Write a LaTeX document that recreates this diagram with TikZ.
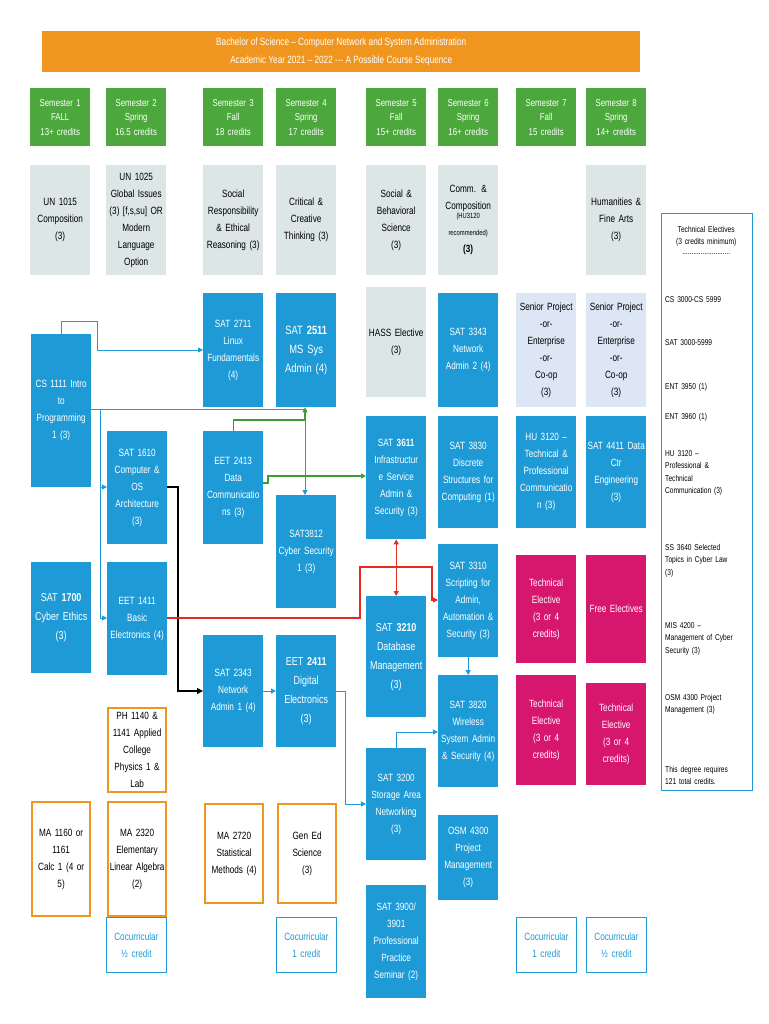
\documentclass[tikz,border=0pt]{standalone}
\usepackage{fontspec}
\setmainfont[FakeStretch=0.78]{Liberation Sans}
\usetikzlibrary{arrows.meta}
\definecolor{cblue}{HTML}{1E9BD7}
\definecolor{cgreen}{HTML}{4CA83C}
\definecolor{cgray}{HTML}{DCE6E6}
\definecolor{cmag}{HTML}{D7166E}
\definecolor{corange}{HTML}{F0961E}
\definecolor{clight}{HTML}{DCE6F4}
\definecolor{cred}{HTML}{E32B24}
\definecolor{cgline}{HTML}{3C9C35}
\tikzset{
 base/.style={anchor=north west,minimum width=60pt,inner sep=1pt,align=center,text width=58pt,font=\fontsize{10.5}{17}\selectfont},
 blu/.style={base,fill=cblue,text=white},
 gry/.style={base,fill=cgray,text=black},
 hdr/.style={base,fill=cgreen,text=white,font=\fontsize{10}{14.5}\selectfont},
 mag/.style={base,fill=cmag,text=white},
 lbl/.style={base,fill=clight,text=black},
 org/.style={base,draw=corange,line width=2.2pt,fill=white,text=black},
 cocu/.style={base,draw=cblue,line width=0.8pt,fill=white,text=cblue},
 bl/.style={draw=cblue,line width=1pt,-{Triangle[length=5pt,width=5pt]}},
 gl/.style={draw=cgline,line width=1.2pt,-{Triangle[length=5pt,width=5pt]}},
 rl/.style={draw=cred,line width=1.2pt,-{Triangle[length=5pt,width=5pt]}},
 kl/.style={draw=black,line width=1.2pt,-{Triangle[length=6pt,width=6pt]}},
 te/.style={anchor=north west,inner sep=0pt,align=left,text width=84pt,font=\fontsize{8.5}{12.5}\selectfont}
}
\begin{document}
\begin{tikzpicture}[x=1pt,y=-1pt]
\useasboundingbox[fill=white] (0,0) rectangle (768,1024);
\node[anchor=north west,fill=corange,text=white,minimum width=598pt,minimum height=41pt,inner sep=0pt,align=center,font=\fontsize{10.5}{18}\selectfont] (title) at (42,31) {Bachelor of Science – Computer Network and System Administration\\Academic Year 2021 – 2022 -{}-{}- A Possible Course Sequence};
% headers
\node[hdr,minimum height=58pt] (h1) at (30,88) {Semester 1\\FALL\\13+ credits};
\node[hdr,minimum height=58pt] (h2) at (106,88) {Semester 2\\Spring\\16.5 credits};
\node[hdr,minimum height=58pt] (h3) at (203,88) {Semester 3\\Fall\\18 credits};
\node[hdr,minimum height=58pt] (h4) at (276,88) {Semester 4\\Spring\\17 credits};
\node[hdr,minimum height=58pt] (h5) at (366,88) {Semester 5\\Fall\\15+ credits};
\node[hdr,minimum height=58pt] (h6) at (438,88) {Semester 6\\Spring\\16+ credits};
\node[hdr,minimum height=58pt] (h7) at (516,88) {Semester 7\\Fall\\15 credits};
\node[hdr,minimum height=58pt] (h8) at (586,88) {Semester 8\\Spring\\14+ credits};
% gen ed
\node[gry,minimum height=110pt] (un1015) at (30,165) {UN 1015\\Composition\\(3)};
\node[gry,minimum height=110pt] (un1025) at (106,165) {UN 1025\\Global Issues\\(3) [f,s,su] OR\\Modern\\Language\\Option};
\node[gry,minimum height=110pt] (soc) at (203,165) {Social\\Responsibility\\\& Ethical\\Reasoning (3)};
\node[gry,minimum height=110pt] (crit) at (276,165) {Critical \&\\Creative\\Thinking (3)};
\node[gry,minimum height=110pt] (sbs) at (366,165) {Social \&\\Behavioral\\Science\\(3)};
\node[gry,minimum height=110pt] (comm) at (438,165) {Comm. \&\\Composition\\{\fontsize{7.5}{9}\selectfont (HU3120\\recommended)}\\\textbf{(3)}};
\node[gry,minimum height=110pt] (hum) at (586,165) {Humanities \&\\Fine Arts\\(3)};
% row 2
\node[blu,minimum height=114pt] (s2711) at (203,293) {SAT 2711\\Linux\\Fundamentals\\(4)};
\node[blu,minimum height=114pt,font=\fontsize{12}{19}\selectfont] (s2511) at (276,293) {SAT \textbf{2511}\\MS Sys\\Admin (4)};
\node[gry,minimum height=110pt] (hass) at (366,287) {HASS Elective\\(3)\\[38pt]};
\node[blu,minimum height=114pt] (s3343) at (438,293) {SAT 3343\\Network\\Admin 2 (4)};
\node[lbl,minimum height=114pt] (sp7) at (516,293) {Senior Project\\-or-\\Enterprise\\-or-\\Co-op\\(3)};
\node[lbl,minimum height=114pt] (sp8) at (586,293) {Senior Project\\-or-\\Enterprise\\-or-\\Co-op\\(3)};
\node[blu,minimum height=153pt] (cs1111) at (31,334) {CS 1111 Intro\\to\\Programming\\1 (3)};
\node[blu,minimum height=113pt] (s1610) at (107,431) {SAT 1610\\Computer \&\\OS\\Architecture\\(3)};
\node[blu,minimum height=113pt] (e2413) at (203,431) {EET 2413 Data\\Communicatio\\ns (3)};
\node[blu,minimum height=113pt] (s3812) at (276,495) {SAT3812\\Cyber Security\\1 (3)};
\node[blu,minimum height=123pt] (s3611) at (366,416) {SAT \textbf{3611}\\Infrastructur\\e Service\\Admin \&\\Security (3)};
\node[blu,minimum height=112pt] (s3830) at (438,416) {SAT 3830\\Discrete\\Structures for\\Computing (1)};
\node[blu,minimum height=112pt] (hu3120) at (516,416) {HU 3120 –\\Technical \&\\Professional\\Communicatio\\n (3)};
\node[blu,minimum height=112pt] (s4411) at (586,416) {SAT 4411 Data\\Ctr\\Engineering\\(3)};
\node[blu,minimum height=111pt,font=\fontsize{11.5}{19}\selectfont] (s1700) at (31,562) {SAT \textbf{1700}\\Cyber Ethics\\(3)};
\node[blu,minimum height=113pt] (e1411) at (107,562) {EET 1411 Basic\\Electronics (4)};
\node[blu,minimum height=121pt,font=\fontsize{11.5}{19}\selectfont] (s3210) at (366,596) {SAT \textbf{3210}\\Database\\Management\\(3)};
\node[blu,minimum height=113pt] (s3310) at (438,544) {SAT 3310\\Scripting for\\Admin,\\Automation \&\\Security (3)};
\node[mag,minimum height=108pt] (te1) at (516,555) {Technical\\Elective\\(3 or 4\\credits)};
\node[mag,minimum height=108pt] (free) at (586,555) {Free Electives};
\node[blu,minimum height=112pt] (s2343) at (203,635) {SAT 2343\\Network\\Admin 1 (4)};
\node[blu,minimum height=112pt,font=\fontsize{11.5}{19}\selectfont] (e2411) at (276,635) {EET \textbf{2411}\\Digital\\Electronics\\(3)};
\node[blu,minimum height=112pt] (s3820) at (438,675) {SAT 3820\\Wireless\\System Admin\\\& Security (4)};
\node[mag,minimum height=110pt] (te2) at (516,675) {Technical\\Elective\\(3 or 4\\credits)};
\node[mag,minimum height=102pt] (te3) at (586,683) {Technical\\Elective\\(3 or 4\\credits)};
\node[org,minimum width=58pt,text width=56pt,minimum height=84pt] (ph) at (107,707) {PH 1140 \&\\1141 Applied\\College\\Physics 1 \&\\Lab};
\node[blu,minimum height=112pt] (s3200) at (366,748) {SAT 3200\\Storage Area\\Networking\\(3)};
\node[blu,minimum height=85pt] (osm) at (438,815) {OSM 4300\\Project\\Management\\(3)};
\node[org,minimum width=58pt,text width=56pt,minimum height=114pt] (ma1160) at (31,801) {MA 1160 or\\1161\\Calc 1 (4 or\\5)};
\node[org,minimum width=58pt,text width=56pt,minimum height=114pt] (ma2320) at (107,801) {MA 2320\\Elementary\\Linear Algebra\\(2)};
\node[org,minimum width=58pt,text width=56pt,minimum height=99pt] (ma2720) at (204,803) {MA 2720\\Statistical\\Methods (4)};
\node[org,minimum width=58pt,text width=56pt,minimum height=99pt] (gened) at (277,803) {Gen Ed\\Science\\(3)};
\node[blu,minimum height=113pt] (s3900) at (366,885) {SAT 3900/\\3901\\Professional\\Practice\\Seminar (2)};
\node[cocu,minimum height=55pt] (c2) at (106,917) {Cocurricular\\½ credit};
\node[cocu,minimum height=55pt] (c4) at (276,917) {Cocurricular\\1 credit};
\node[cocu,minimum height=55pt] (c7) at (516,917) {Cocurricular\\1 credit};
\node[cocu,minimum height=55pt] (c8) at (586,917) {Cocurricular\\½ credit};
% technical electives box
\node[anchor=north west,draw=cblue,line width=0.8pt,minimum width=91pt,minimum height=577pt,inner sep=0pt] (tebox) at (661,213) {};
\node[te,align=center] (teh) at (664,226) {Technical Electives\\(3 credits minimum)\\[-3pt]..........................};
\node[te] (t1) at (665,296) {CS 3000-CS 5999};
\node[te] (t2) at (665,339) {SAT 3000-5999};
\node[te] (t3) at (665,383) {ENT 3950 (1)};
\node[te] (t4) at (665,413) {ENT 3960 (1)};
\node[te] (t5) at (665,450) {HU 3120 –\\Professional \&\\Technical\\Communication (3)};
\node[te] (t6) at (665,544) {SS 3640 Selected\\Topics in Cyber Law\\(3)};
\node[te] (t7) at (665,622) {MIS 4200 –\\Management of Cyber\\Security (3)};
\node[te] (t8) at (665,694) {OSM 4300 Project\\Management (3)};
\node[te] (t9) at (665,766) {This degree requires\\121 total credits.};
% connectors
\draw[bl] (cs1111.north) -- ++(0,-13) -| (97,350) -- (s2711.west |- 0,350);
\draw[bl] (cs1111.east |- 0,409) -- (305,409) -- (s3812.north -| 305,0);
\draw[bl] (100,409) |- (s1610.west |- 0,487);
\draw[bl] (100,487) |- (e1411.west |- 0,618);
\draw[gl] (e2413.north) -- ++(0,-11) -| (s2511.south -| 305,0);
\draw[gl] (e2413.east |- 0,483) -- (268,483) |- (s3611.west |- 0,476);
\draw[kl] (s1610.east |- 0,487) -- (178,487) |- (s2343.west |- 0,691);
\draw[bl] (s2343.east |- 0,691) -- (e2411.west |- 0,691);
\draw[bl] (e2411.east |- 0,691) -- (345,691) |- (s3200.west |- 0,804);
\draw[bl] (s3200.north -| 396,0) -- (396,732) -- (s3820.west |- 0,732);
\draw[bl] (s3310.south) -- (s3820.north);
\draw[rl] (e1411.east |- 0,618) -- (360,618) -- (360,567) -- (432,567) |- (s3310.west |- 0,600);
\draw[rl,{Triangle[length=5pt,width=5pt]}-{Triangle[length=5pt,width=5pt]}] (s3611.south) -- (s3210.north);
\end{tikzpicture}
\end{document}
